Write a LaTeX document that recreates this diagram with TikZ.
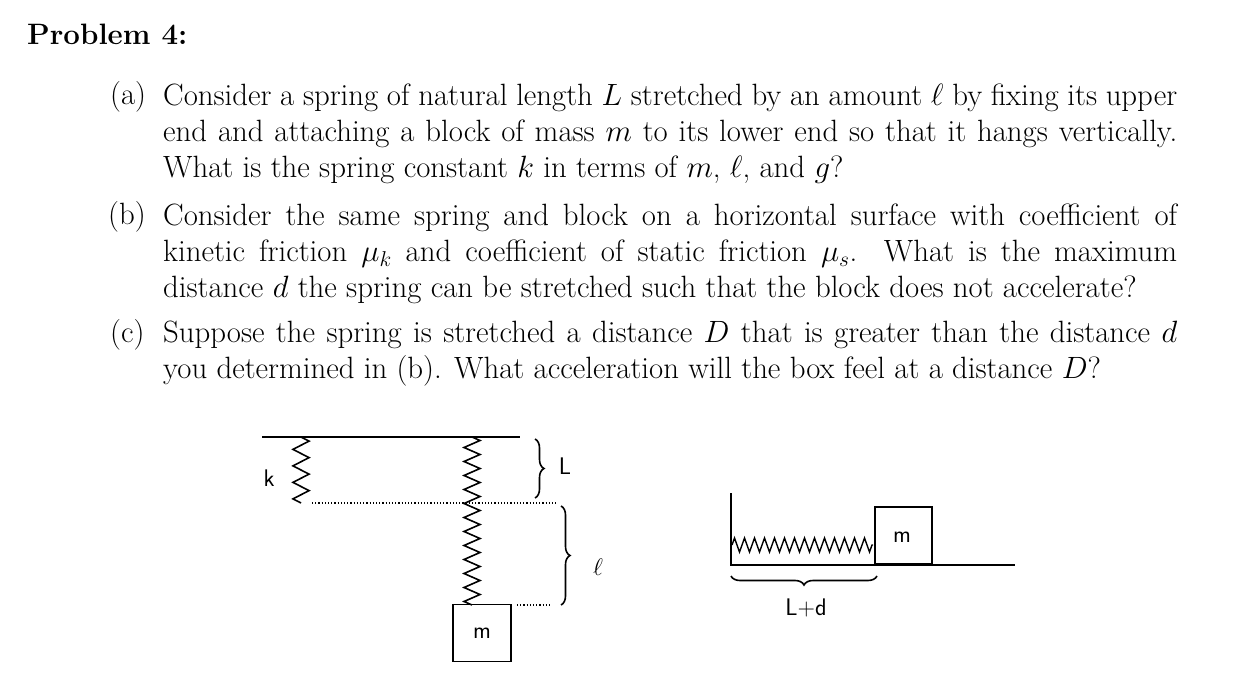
\RequirePackage{fix-cm}
\documentclass[tikz,border=0pt]{standalone}
\usetikzlibrary{decorations.pathmorphing,decorations.pathreplacing}
\DeclareMathSizes{30.8}{30.8}{21.5}{15.4}
\begin{document}
\begin{tikzpicture}[x=1pt,y=-1pt,
  txt/.style={anchor=base west,inner sep=0pt,font=\fontsize{30.8}{36}\selectfont},
  par/.style={anchor=north west,inner sep=0pt,text width=1014pt,align=justify,font=\fontsize{30.8}{36}\selectfont},
  hand/.style={font=\sffamily\fontsize{24}{28}\selectfont,inner sep=0pt},
  springv/.style={line width=1.6pt,decorate,decoration={zigzag,amplitude=8pt,segment length=14pt}},
  brc/.style={line width=1.6pt,decorate,decoration={brace,amplitude=9pt}},
  dots/.style={dotted,line width=1.2pt},
  solid1/.style={line width=1.6pt}]
\useasboundingbox (0,0) rectangle (1244,700);
\node[txt,font=\bfseries\fontsize{29.5}{36}\selectfont] (title) at (27,45) {Problem 4:};
\node[txt] (la) at (110,105) {(a)};
\node[par] (pa) at (163,84) {Consider a spring of natural length $L$ stretched by an amount $\ell$ by fixing its upper end and attaching a block of mass $m$ to its lower end so that it hangs vertically. What is the spring constant $k$ in terms of $m$, $\ell$, and $g$?};
\node[txt] (lb) at (108,225) {(b)};
\node[par] (pb) at (163,204) {Consider the same spring and block on a horizontal surface with coefficient of\linebreak kinetic friction $\mu_k$ and coefficient of static friction $\mu_s$. What is the maximum\linebreak distance $d$ the spring can be stretched such that the block does not accelerate?};
\node[txt] (lc) at (110,342) {(c)};
\node[par] (pc) at (163,321) {Suppose the spring is stretched a distance $D$ that is greater than the distance $d$ you determined in (b). What acceleration will the box feel at a distance $D$?};
% left diagram
\coordinate (c1) at (262,437); \coordinate (c2) at (520,437);
\draw[solid1] (c1) -- (c2);
\coordinate (s1a) at (301,437); \coordinate (s1b) at (301,503);
\draw[springv,decoration={segment length=16.5pt}] (s1a) -- (s1b);
\coordinate (s2a) at (472,437); \coordinate (s2b) at (472,605);
\draw[springv] (s2a) -- (s2b);
\coordinate (d1a) at (312,503); \coordinate (d1b) at (557,503);
\draw[dots] (d1a) -- (d1b);
\node[draw,solid1,minimum width=58pt,minimum height=57pt,inner sep=0pt] (m1) at (482,633) {};
\node[hand] (m1t) at (m1) {m};
\coordinate (d2a) at (517,605); \coordinate (d2b) at (550,605);
\draw[dots] (d2a) -- (d2b);
\coordinate (bL1) at (535,439); \coordinate (bL2) at (535,498);
\draw[brc] (bL1) -- (bL2);
\node[hand] (Lt) at (565,466) {L};
\coordinate (bl1) at (561,506); \coordinate (bl2) at (561,605);
\draw[brc] (bl1) -- (bl2);
\node[hand] (lt) at (598,567) {$\ell$};
\node[hand] (kt) at (269,478) {k};
% right diagram
\coordinate (w1) at (731,493); \coordinate (w2) at (731,565); \coordinate (g2) at (1015,565);
\draw[solid1] (w1) -- (w2) -- (g2);
\node[draw,solid1,minimum width=57pt,minimum height=57pt,inner sep=0pt,anchor=south west] (m2) at (874,565) {};
\node[hand] (m2t) at (902,537) {m};
\coordinate (s3a) at (732,545); \coordinate (s3b) at (873,545);
\draw[line width=1.4pt,decorate,decoration={zigzag,amplitude=7pt,segment length=10pt}] (s3a) -- (s3b);
\coordinate (b3a) at (877,576); \coordinate (b3b) at (731,576);
\draw[brc] (b3a) -- (b3b);
\node[hand] (Ldt) at (806,608) {L+d};
\end{tikzpicture}
\end{document}
